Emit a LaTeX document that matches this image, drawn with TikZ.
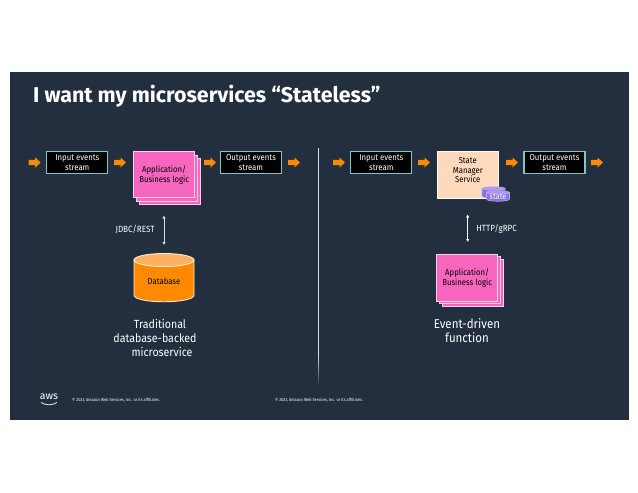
\documentclass[tikz,border=0pt]{standalone}
\usepackage{fontspec}
\setmainfont[FakeStretch=0.9]{Fira Sans}
\newfontfamily\titlefont{Fira Sans}
\usetikzlibrary{arrows.meta}
\definecolor{panel}{HTML}{232F3E}
\definecolor{teal}{HTML}{7FC8C0}
\definecolor{orangeb}{HTML}{FF8A00}
\definecolor{orangel}{HTML}{FFB060}
\definecolor{pinkb}{HTML}{F766BE}
\definecolor{pinke}{HTML}{FBD0E8}
\definecolor{peach}{HTML}{FFD9BC}
\definecolor{purp}{HTML}{8A6FE8}
\definecolor{purpl}{HTML}{B8A6F2}
\definecolor{lgray}{HTML}{D8DEE2}
\tikzset{
  flowarrow/.pic={\fill[orangeb] (-6,-2.6) -- (0.5,-2.6) -- (0.5,-5) -- (6,0) -- (0.5,5) -- (0.5,2.6) -- (-6,2.6) -- cycle;},
  streambox/.style={draw=teal,line width=1.1pt,fill=black,text=white,minimum width=61pt,minimum height=22pt,inner sep=0pt,align=center,font=\fontsize{8.6}{10}\selectfont},
  pinkcard/.style={draw=pinke,line width=0.9pt,fill=pinkb,minimum width=61pt,inner sep=0pt,align=center,text=black,font=\fontsize{8.6}{10}\selectfont},
  statebox/.style={draw=white,line width=0.8pt,fill=peach,minimum width=61pt,minimum height=46.5pt,inner sep=0pt},
  linklabel/.style={text=white,font=\fontsize{9}{10}\selectfont,inner sep=0pt},
  caption/.style={text=white,align=center,font=\fontsize{11.8}{14}\selectfont,inner sep=0pt},
  foot/.style={text=white,font=\fontsize{4.3}{5}\selectfont,inner sep=0pt,anchor=west},
  linkb/.style={draw=lgray,line width=0.9pt,{Latex[length=3pt,width=3.5pt]}-{Latex[length=3pt,width=3.5pt]}}
}
\begin{document}
\begin{tikzpicture}[x=1pt,y=-1pt]
\useasboundingbox (0,0) rectangle (638,493);
\fill[white] (0,0) rectangle (638,493);
\node[fill=panel,minimum width=619pt,minimum height=348pt,inner sep=0pt,anchor=north west] (panel) at (10,72) {};
\node[anchor=west,text=white,inner sep=0pt,font=\titlefont\fontsize{21.4}{24}\selectfont\bfseries] (title) at (33,96) {I want my microservices “Stateless”};
% divider
\coordinate (divtop) at (318.5,148);
\coordinate (divmid) at (318.5,355);
\draw[line width=0.7pt,draw=lgray] (divtop) -- (divmid);
\shade[top color=lgray,bottom color=black!85] (318.15,355) rectangle (318.85,388);
% left
\pic at (34.7,162.5) {flowarrow};
\node[streambox] (lin) at (77.3,162.8) {Input events\\stream};
\pic at (120,162.5) {flowarrow};
\node[pinkcard,minimum height=46pt] (lc3) at (170,181) {};
\node[pinkcard,minimum height=46pt] (lc2) at (167,178) {};
\node[pinkcard,minimum height=46pt] (lapp) at (164.2,174.7) {Application/\\Business logic};
\pic at (210,162.5) {flowarrow};
\node[streambox] (lout) at (251,162.8) {Output events\\stream};
\pic at (294,162.5) {flowarrow};
\node[linklabel] (jdbc) at (135,229) {JDBC/REST};
% database
\draw[white!85!orangeb,line width=0.9pt,fill=orangeb] (134,260) -- (134,295) .. controls (134,304) and (194,304) .. (194,295) -- (194,260) -- cycle;
\draw[white!85!orangeb,line width=0.9pt,fill=orangel] (164,260) ellipse[x radius=30pt,y radius=6.5pt];
\node[text=black,font=\fontsize{8.6}{10}\selectfont,inner sep=0pt] (db) at (164,281) {Database};
\coordinate (lt) at (164,215.5);
\coordinate (lb) at (164,245);
\draw[linkb] (lt) -- (lb);
\node[caption] (lcap) at (155,337.5) {\hspace*{10pt}Traditional\\database-backed\\\hspace*{14pt}microservice};
% right
\pic at (339,162.5) {flowarrow};
\node[streambox] (rin) at (381.3,162.8) {Input events\\stream};
\pic at (424,162.5) {flowarrow};
\node[statebox] (sms) at (467.8,175) {};
\node[text=black,align=center,inner sep=0pt,font=\fontsize{8.6}{9.5}\selectfont] (smstext) at (467.8,170.5) {State\\Manager\\Service};
\pic at (512,162.5) {flowarrow};
\node[streambox] (rout) at (554.5,162.8) {Output events\\stream};
\pic at (597,162.5) {flowarrow};
% state cylinders
\draw[purpl,line width=0.6pt,fill=purp] (482,188.5) -- (482,196) .. controls (482,199) and (505,199) .. (505,196) -- (505,188.5) -- cycle;
\draw[purpl,line width=0.6pt,fill=purp!70!white] (493.5,188.5) ellipse[x radius=11.5pt,y radius=1.7pt];
\draw[purpl,line width=0.6pt,fill=purp] (486.5,192.5) -- (486.5,199) .. controls (486.5,202) and (509.5,202) .. (509.5,199) -- (509.5,192.5) -- cycle;
\draw[purpl,line width=0.6pt,fill=purp!70!white] (498,192.5) ellipse[x radius=11.5pt,y radius=1.7pt];
\node[text=white,font=\fontsize{8.4}{9}\selectfont,inner sep=0pt] (st) at (498,197) {state};
\coordinate (rt) at (467.7,214.5);
\coordinate (rb) at (467.7,242);
\draw[linkb,draw=white] (rt) -- (rb);
\node[linklabel] (http) at (496.7,229) {HTTP/gRPC};
\node[pinkcard,minimum height=47pt] (rc3) at (473,282.5) {};
\node[pinkcard,minimum height=47pt] (rc2) at (470,280) {};
\node[pinkcard,minimum height=47pt] (rapp) at (467.2,277.7) {Application/\\Business logic};
\node[caption,font=\fontsize{12.8}{14}\selectfont] (rcap) at (467,330.5) {Event-driven\\function};
% footer
\node[text=white,font=\titlefont\fontsize{10.5}{10}\selectfont,inner sep=0pt] (aws) at (49,397) {aws};
\coordinate (sl) at (41,402.5);
\coordinate (sr) at (57,402.5);
\draw[white,line width=0.7pt] (sl) .. controls (46,405.5) and (52,405.5) .. (sr);
\node[foot] (f1) at (72,400.5) {© 2023, Amazon Web Services, Inc. or its affiliates.};
\node[foot] (f2) at (275,400.5) {© 2023, Amazon Web Services, Inc. or its affiliates.};
\end{tikzpicture}
\end{document}
